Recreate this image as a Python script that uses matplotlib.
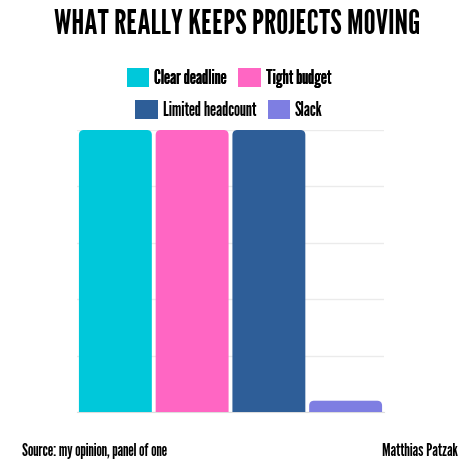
import matplotlib
matplotlib.use("Agg")
import matplotlib.pyplot as plt
from matplotlib.patches import FancyBboxPatch, Patch

plt.rcParams['font.family'] = ['League Gothic', 'Oswald', 'DejaVu Sans']

categories = ["Clear deadline", "Tight budget", "Limited headcount", "Slack"]
values = [100, 100, 100, 4]
colors = ["#00C8DA", "#FF66C3", "#2E5E98", "#7E7EE2"]
title = "WHAT REALLY KEEPS PROJECTS MOVING"
source = "Source: my opinion, panel of one"
author = "Matthias Patzak"

fig = plt.figure(figsize=(4.74, 4.74), dpi=100)
ax = fig.add_axes([77/474, 1-412/474, (384-77)/474, (412-130)/474])

width = 0.95
x = list(range(len(categories)))
ax.set_xlim(-0.5, len(categories) - 0.5)
ax.set_ylim(0, 100)

# rounded-top bars: start below zero so the bottom corners get clipped
px_x = (384 - 77) / len(categories)
px_y = (412 - 130) / 100.0
aspect = px_x / px_y
r = 5 / px_x
for xi, v, c in zip(x, values, colors):
    left = xi - width / 2
    ax.add_patch(FancyBboxPatch((left, -10), width, v + 10,
                                boxstyle="round,pad=0,rounding_size=%f" % r,
                                mutation_aspect=aspect, fc=c, ec="none",
                                zorder=3, clip_on=True))

ax.set_yticks([0, 20, 40, 60, 80, 100])
ax.yaxis.grid(True, color="#EBEBEB", lw=1)
ax.set_axisbelow(True)
ax.tick_params(left=False, bottom=False, labelleft=False, labelbottom=False)
for s in ["top", "right", "left"]:
    ax.spines[s].set_visible(False)
ax.spines["bottom"].set_color("#DDDDDD")

handles = [Patch(fc=c, ec="none") for c in colors]
kw = dict(ncol=2, loc="center", frameon=False,
          prop={"size": 14}, handlelength=1.15,
          handleheight=1.15, handletextpad=0.25, columnspacing=0.6)
leg1 = fig.legend(handles[:2], categories[:2],
                  bbox_to_anchor=(229/474, 1 - 78/474), **kw)
leg2 = fig.legend(handles[2:], categories[2:],
                  bbox_to_anchor=(229/474, 1 - 110/474), **kw)
fig.add_artist(leg1)

fig.text(0.5, 1 - 25/474, title, ha="center", va="center", fontsize=24.5)
fig.text(22/474, 1 - 451/474, source, ha="left", va="center", fontsize=12.6)
fig.text(458/474, 1 - 451/474, author, ha="right", va="center", fontsize=12.6)

fig.savefig("out.png", dpi=100)
